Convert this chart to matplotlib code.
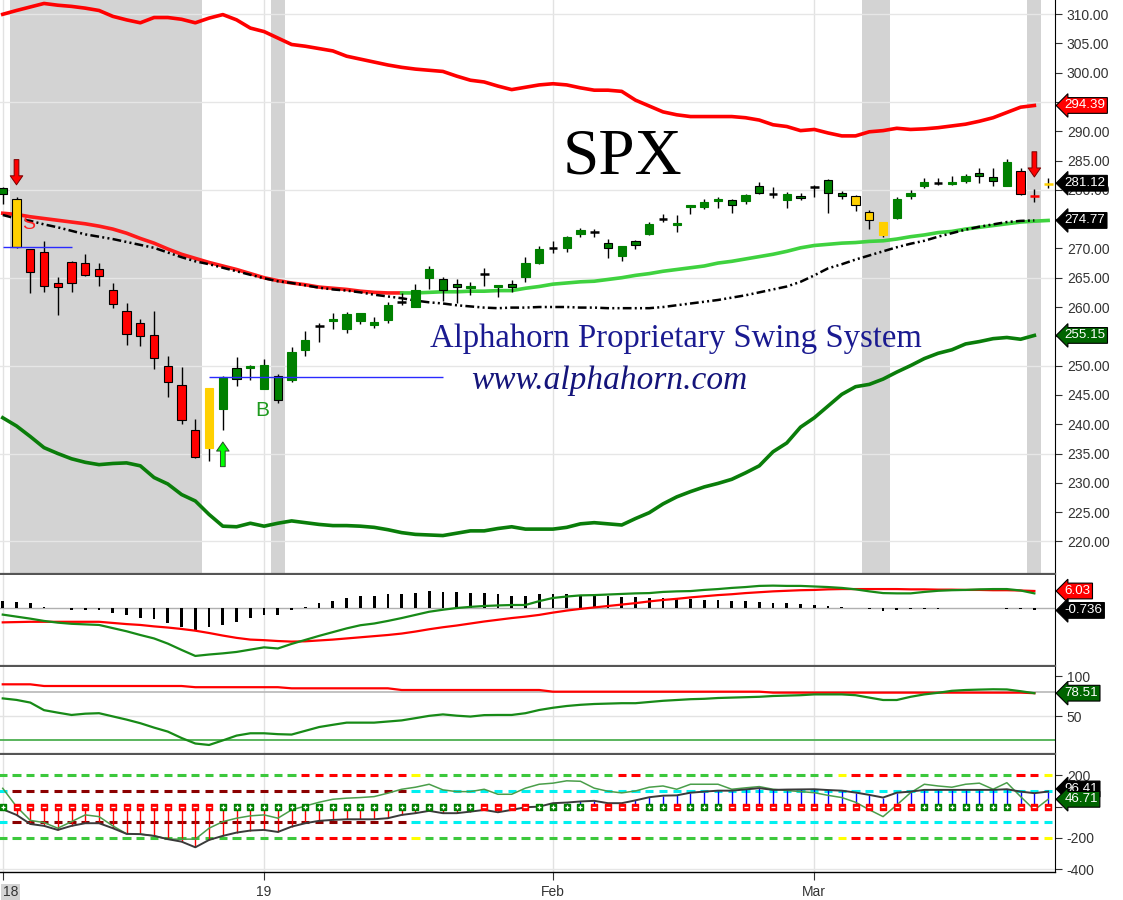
import matplotlib.pyplot as plt

plt.rcParams['font.family'] = ['Liberation Sans', 'DejaVu Sans']

# ---- price data (daily candles, Dec 3 2018 .. Mar 26 2019) ----
opens = [280.28, 278.37, 265.92, 269.46, 263.37, 267.66, 267.47, 266.52, 262.96, 259.40,
         257.20, 255.17, 249.86, 246.74, 239.04, 235.97, 242.57, 249.58, 249.56, 245.98,
         248.23, 247.59, 252.69, 256.82, 257.56, 256.26, 257.68, 256.86, 257.82, 260.83,
         259.98, 264.98, 264.82, 264.01, 263.21, 265.61, 263.39, 263.92, 265.10, 267.51,
         270.15, 270.11, 272.44, 272.79, 270.94, 268.75, 271.20, 272.42, 275.02, 273.94,
         277.00, 277.07, 278.06, 278.21, 278.05, 280.73, 279.29, 278.19, 279.02, 280.49,
         281.71, 279.50, 278.87, 276.21, 272.29, 275.12, 278.91, 280.73, 281.10, 280.99,
         281.55, 282.84, 282.26, 280.64, 283.22, 278.87, 280.99]
highs = [280.40, 278.85, 269.97, 271.22, 265.16, 267.87, 269.00, 267.43, 264.03, 260.65,
         257.95, 259.40, 251.62, 249.71, 240.84, 246.18, 248.29, 251.40, 250.19, 251.21,
         248.57, 253.11, 255.95, 257.31, 258.91, 259.16, 259.01, 258.30, 260.94, 262.36,
         263.92, 266.98, 265.06, 264.79, 264.20, 266.70, 263.83, 264.55, 268.52, 270.47,
         271.20, 272.04, 273.44, 273.34, 271.55, 270.33, 271.49, 274.52, 275.93, 275.64,
         277.41, 278.51, 278.74, 278.49, 279.36, 281.31, 280.42, 279.60, 279.40, 280.89,
         281.92, 279.77, 279.05, 276.47, 274.42, 278.79, 279.95, 282.04, 281.93, 282.39,
         282.66, 283.70, 283.77, 285.18, 283.80, 280.19, 282.03]
lows = [277.51, 270.10, 262.44, 262.63, 258.62, 262.48, 265.37, 263.66, 259.85, 253.53,
        253.28, 249.35, 244.65, 239.98, 234.27, 233.76, 238.96, 246.45, 247.47, 245.95,
        243.67, 247.17, 251.69, 254.00, 256.19, 255.50, 257.03, 256.41, 257.21, 260.26,
        259.96, 263.00, 261.06, 260.66, 262.08, 263.66, 261.79, 262.48, 264.25, 267.27,
        269.18, 269.36, 271.88, 271.92, 268.29, 267.83, 269.95, 272.34, 274.56, 272.88,
        275.91, 276.81, 276.93, 276.11, 277.64, 279.30, 278.67, 276.91, 278.24, 278.78,
        276.11, 278.44, 276.35, 273.31, 271.88, 274.96, 278.44, 280.29, 280.76, 280.84,
        281.23, 281.19, 280.71, 280.58, 279.18, 277.90, 280.37]
closes = [279.30, 270.25, 269.84, 263.57, 264.07, 264.13, 265.46, 265.37, 260.47, 255.36,
          255.08, 251.26, 247.17, 240.70, 234.34, 246.18, 248.07, 247.75, 249.92, 250.18,
          244.21, 252.39, 254.38, 256.77, 257.97, 258.88, 258.98, 257.40, 260.35, 260.98,
          262.96, 266.46, 262.86, 263.41, 263.55, 265.78, 263.76, 263.41, 267.58, 269.93,
          270.06, 271.96, 273.10, 272.74, 270.14, 270.47, 270.62, 274.10, 274.99, 274.38,
          277.37, 277.85, 278.41, 277.42, 279.14, 279.52, 279.32, 279.20, 278.68, 280.42,
          279.40, 279.02, 277.33, 274.78, 274.46, 278.44, 279.49, 281.34, 281.16, 281.31,
          282.33, 282.40, 281.55, 284.73, 279.25, 279.04, 281.12]
candle_state = ("gy" "rrrrrrrrrrrrr" "y"
                "gggggggggggggggggggggggggggggggggggggggggggggg"
                "yyy" "ggggggggg" "rr" "y")

upper_band = [309.95, 310.6, 311.2, 311.8, 311.5, 311.3, 311.0, 310.6, 309.6, 309.0,
              308.5, 309.4, 309.4, 309.1, 308.5, 309.3, 309.9, 309.0, 307.6, 307.0,
              305.9, 304.8, 304.5, 304.1, 303.7, 302.8, 302.3, 301.8, 301.3, 300.9,
              300.6, 300.4, 300.2, 299.4, 298.7, 298.4, 297.7, 297.1, 297.5, 297.9,
              298.1, 297.9, 297.4, 297.0, 297.0, 296.8, 295.3, 294.3, 293.3, 292.8,
              292.5, 292.5, 292.5, 292.5, 292.3, 291.9, 291.1, 290.8, 290.1, 290.3,
              289.7, 289.2, 289.2, 289.9, 290.1, 290.5, 290.3, 290.4, 290.6, 290.9,
              291.2, 291.7, 292.3, 293.2, 294.1, 294.39]
lower_band = [241.1, 239.7, 237.9, 236.0, 235.0, 234.1, 233.5, 233.1, 233.3, 233.4,
              232.9, 230.9, 229.8, 228.0, 226.9, 224.6, 222.6, 222.5, 223.1, 222.6,
              223.1, 223.5, 223.2, 222.9, 222.7, 222.7, 222.6, 222.4, 222.0, 221.5,
              221.2, 221.1, 221.0, 221.4, 221.8, 221.8, 222.2, 222.5, 222.1, 222.1,
              222.1, 222.4, 223.0, 223.2, 223.0, 222.8, 223.9, 224.9, 226.4, 227.6,
              228.5, 229.3, 229.9, 230.6, 231.7, 232.9, 235.3, 236.8, 239.5, 241.1,
              243.1, 245.1, 246.4, 246.8, 247.7, 248.9, 250.0, 251.2, 252.1, 252.7,
              253.7, 254.1, 254.6, 254.8, 254.5, 255.15]
trend_line = [276.0, 275.8, 275.4, 275.1, 274.8, 274.5, 274.2, 273.8, 273.3, 272.6,
              271.7, 270.9, 269.9, 269.0, 268.3, 267.6, 267.0, 266.4, 265.7, 265.0,
              264.5, 264.1, 263.8, 263.4, 263.2, 263.0, 262.7, 262.5, 262.4, 262.4,
              262.4, 262.5, 262.6, 262.6, 262.7, 262.7, 262.8, 262.8, 263.2, 263.5,
              263.9, 264.1, 264.3, 264.4, 264.7, 265.0, 265.4, 265.7, 266.1, 266.4,
              266.7, 267.0, 267.5, 267.8, 268.2, 268.6, 269.0, 269.5, 270.1, 270.5,
              270.7, 270.9, 271.0, 271.2, 271.3, 271.6, 272.0, 272.3, 272.7, 272.9,
              273.3, 273.6, 273.9, 274.2, 274.5, 274.65, 274.77]
trend_turn = 29
mid_band = [275.7, 275.1, 274.7, 274.1, 273.6, 273.0, 272.4, 272.0, 271.6, 271.1,
            270.6, 270.1, 269.3, 268.5, 267.8, 267.3, 266.7, 266.1, 265.5, 264.9,
            264.4, 264.1, 263.7, 263.3, 263.0, 262.8, 262.5, 262.1, 261.8, 261.5,
            261.1, 260.8, 260.6, 260.3, 260.1, 259.9, 259.8, 259.9, 259.9, 260.0,
            260.0, 260.0, 259.9, 259.9, 259.8, 259.8, 259.8, 259.8, 260.0, 260.3,
            260.6, 260.9, 261.2, 261.6, 262.0, 262.5, 263.0, 263.5, 264.3, 265.4,
            266.6, 267.3, 268.1, 268.8, 269.5, 270.2, 270.8, 271.3, 272.0, 272.6,
            273.2, 273.7, 274.1, 274.5, 274.7, 274.77]

shade_spans = [(1, 14), (20, 20), (63, 64), (75, 75)]
sell_signals = [1, 75]
buy_signals = [16]
sell_line = (1, 0, 5)      # level taken from close of candle 1
buy_line = (16, 15, 32)    # level taken from close of candle 16

# ---- oscillator panel ----
macd = [-2.2, -2.9, -3.6, -4.4, -5.0, -5.4, -5.6, -5.8, -6.9, -8.0,
        -9.3, -10.5, -12.3, -14.5, -16.6, -16.1, -15.7, -15.2, -14.4, -13.6,
        -14.0, -12.4, -11.0, -9.6, -8.3, -7.0, -5.9, -5.3, -4.4, -3.4,
        -2.3, -1.2, -0.5, 0.1, 0.5, 0.8, 1.0, 1.15, 1.15, 2.5,
        3.6, 4.1, 4.5, 4.6, 4.8, 5.0, 5.2, 5.3, 5.7, 5.9,
        6.0, 6.4, 6.7, 7.1, 7.4, 7.8, 7.9, 7.8, 7.8, 7.6,
        7.4, 7.1, 6.6, 5.9, 5.3, 5.2, 5.2, 5.7, 6.1, 6.3,
        6.4, 6.6, 6.7, 6.7, 6.2, 5.2]
signal = [-4.9, -4.8, -4.7, -4.7, -4.7, -4.7, -4.7, -4.7, -5.1, -5.5,
          -5.8, -6.3, -6.7, -7.2, -7.8, -8.6, -9.5, -10.3, -10.9, -11.1,
          -11.4, -11.6, -11.5, -11.2, -10.9, -10.5, -10.1, -9.7, -9.3, -8.8,
          -8.1, -7.3, -6.6, -6.0, -5.3, -4.6, -4.0, -3.4, -2.9, -2.3,
          -1.5, -0.8, -0.2, 0.3, 0.8, 1.3, 1.8, 2.4, 2.9, 3.3,
          3.8, 4.2, 4.6, 4.9, 5.3, 5.6, 5.9, 6.1, 6.3, 6.4,
          6.6, 6.7, 6.7, 6.7, 6.7, 6.7, 6.6, 6.6, 6.5, 6.5,
          6.4, 6.4, 6.3, 6.3, 6.2, 6.03]
hist = [2.6, 2.3, 1.7, 0.6, 0.1, -0.6, -0.6, -0.6, -1.5, -2.3,
        -3.3, -3.7, -5.0, -6.4, -7.5, -6.6, -5.8, -4.6, -3.3, -2.3,
        -2.3, -0.7, 0.35, 1.7, 2.7, 3.5, 4.4, 4.4, 4.9, 4.9,
        5.2, 6.2, 5.8, 5.7, 5.2, 5.2, 4.9, 4.4, 4.4, 4.9,
        4.9, 4.9, 4.7, 4.5, 4.3, 4.1, 3.9, 3.7, 3.5, 3.3,
        3.1, 2.9, 2.8, 2.6, 2.4, 2.2, 2.0, 1.7, 1.4, 1.1,
        0.7, 0.4, 0.15, -0.3, -0.8, -0.5, -0.35, -0.3, -0.25, 0.0,
        0.0, 0.0, 0.0, -0.15, -0.3, -0.736]

# ---- percent panel ----
pct_slow = [89.6, 89.6, 89.6, 87.5, 87.5, 87.5, 87.5, 87.5, 87.5, 87.5,
            87.5, 87.5, 87.5, 87.5, 86.0, 86.0, 86.0, 86.0, 86.0, 86.0,
            86.0, 84.6, 84.6, 84.6, 84.6, 84.6, 84.6, 84.6, 84.6, 82.5,
            82.5, 82.5, 82.5, 82.5, 82.5, 82.5, 82.5, 82.5, 82.5, 82.5,
            80.4, 80.4, 80.4, 80.4, 80.4, 80.4, 80.4, 80.4, 80.4, 80.4,
            80.4, 80.4, 80.4, 80.4, 80.4, 80.4, 79.2, 79.2, 79.2, 79.2,
            79.2, 79.2, 79.2, 79.2, 79.2, 79.2, 79.2, 79.2, 79.2, 79.2,
            79.2, 79.2, 79.2, 79.2, 79.2, 78.51]
pct_fast = [72.0, 70.1, 66.8, 57.3, 54.2, 51.3, 52.9, 53.5, 49.5, 45.5,
            41.0, 35.5, 30.5, 22.5, 15.6, 13.8, 19.5, 25.5, 28.4, 28.4,
            27.3, 26.8, 31.5, 36.2, 39.0, 41.7, 41.7, 41.7, 43.1, 44.5,
            47.3, 50.2, 52.0, 50.4, 49.3, 51.1, 51.3, 51.3, 53.5, 57.5,
            60.3, 62.5, 64.0, 65.0, 65.5, 66.0, 66.0, 67.5, 69.0, 70.0,
            71.0, 71.5, 72.5, 73.0, 73.5, 74.0, 75.0, 75.5, 76.0, 77.0,
            77.0, 77.0, 76.0, 73.0, 70.0, 70.0, 74.0, 77.0, 79.0, 81.5,
            82.5, 83.0, 83.4, 83.2, 81.0, 78.51]

# ---- cci panel ----
cci_slow = [-17, -53, -111, -123, -149, -123, -106, -106, -138, -174,
            -176, -187, -208, -224, -260, -213, -187, -166, -153, -149,
            -162, -128, -106, -91, -85, -81, -81, -81, -74, -53,
            -42, -27, -42, -42, -32, -21, -36, -21, -4, 0,
            22, 26, 33, 37, 22, 22, 40, 60, 70, 72,
            89, 96, 102, 102, 110, 118, 107, 109, 110, 111,
            106, 102, 90, 75, 58, 89, 96, 107, 107, 107,
            107, 107, 107, 111, 96, 86, 96.41]
cci_fast = [117, 0, -88, -102, -138, -96, -53, -64, -123, -174,
            -176, -187, -208, -208, -208, -138, -96, -74, -59, -53,
            -74, -21, 4, 28, 47, 54, 58, 64, 86, 111,
            124, 143, 107, 96, 96, 111, 79, 79, 118, 143,
            150, 165, 162, 118, 98, 88, 100, 124, 132, 111,
            143, 143, 143, 111, 120, 128, 111, 103, 96, 89,
            72, 58, 28, -20, -64, 11, 89, 143, 132, 124,
            143, 150, 111, 153, 64, -21, 46.71]
cci_signs = ("+" "---------------" "+++++++++++++++++++" "----" "++++" "----"
             "++" "-" "+++" "--------------" "+++++++" "---")
outer_state = ("gggggggggggggggggggggg" "rrrrrrrr" "y" "gggggggggggggg" "rr"
               "gggggggggggggg" "y" "rrrr" "gggggggg" "rr" "y")
inner_state = ("c" "ddddddddddddddddddddddddddddd"
               "ccccccccccccccccccccccccccccccccccccccccccccccc")

month_pos = [0, 19, 40, 59]
month_lab = ['18', '19', 'Feb', 'Mar']
price_ticks = [220, 225, 230, 235, 240, 245, 250, 255, 260, 265, 270, 275, 280,
               285, 290, 295, 300, 305, 310]
hidden_ticks = [255, 275, 295]     # labels covered by the value tags
price_grid = [220, 235, 250, 265, 280, 295, 310]

fill = {'g': '#008000', 'r': '#ff0000', 'y': '#ffd000'}
dash_col = {'g': '#3cc83c', 'r': '#ff0000', 'y': '#ffff00', 'c': '#00f0f0', 'd': '#8b0000'}

W, H = 1123, 900
fig = plt.figure(figsize=(W / 100, H / 100), dpi=100)


def panel(top, bottom):
    a = fig.add_axes([0, 1 - bottom / H, 1055 / W, (bottom - top) / H])
    a.set_xlim(-0.2, 76.5)
    a.yaxis.tick_right()
    a.spines['left'].set_visible(False)
    a.spines['top'].set_visible(False)
    a.spines['bottom'].set_color('#555555')
    a.spines['bottom'].set_linewidth(1.6)
    a.spines['right'].set_color('black')
    a.set_xticks([])
    a.tick_params(axis='y', direction='out', length=5, labelsize=10, colors='#333333')
    for p in month_pos:
        a.axvline(p, color='#e2e2e2', lw=1, zorder=0)
    return a


def tag(a, y, text, fc):
    a.text(1.009, y, text, transform=a.get_yaxis_transform(), fontsize=9.6,
           color='white', ha='left', va='center', clip_on=False, zorder=20,
           bbox=dict(boxstyle='larrow,pad=0.14', fc=fc, ec='black', lw=0.8))


ax1 = panel(0, 574)
ax2 = panel(575, 666)
ax3 = panel(667, 754)
ax4 = panel(755, 872)

# ---- main price panel ----
ax1.set_ylim(214.44, 312.39)
for a0, a1 in shade_spans:
    ax1.axvspan(a0 - 0.5, a1 + 0.5, color='#d3d3d3', lw=0, zorder=0)
for g in price_grid:
    ax1.axhline(g, color='#e6e6e6', lw=1, zorder=0.5)

x_all = list(range(len(closes)))
xb = x_all[:len(upper_band)]
ax1.plot(xb, upper_band, color='#ff0000', lw=2.6, zorder=2)
ax1.plot(xb, lower_band, color='#0a7d0a', lw=2.6, zorder=2)
ax1.plot(xb, mid_band, color='black', lw=1.8, zorder=2.2,
         dashes=[3.5, 1.3, 0.8, 1.3, 0.8, 1.3])
ax1.plot(x_all[:trend_turn + 1], trend_line[:trend_turn + 1], color='#ff1a1a', lw=2.6, zorder=2.1)
ax1.plot(x_all[trend_turn:], trend_line[trend_turn:], color='#3fd23f', lw=2.6, zorder=2.1)

for i, (o, h, l, c, s) in enumerate(zip(opens, highs, lows, closes, candle_state)):
    ax1.vlines(i, l, h, color='black', lw=1, zorder=3)
    if abs(c - o) < 0.2:
        ax1.hlines((o + c) / 2, i - 0.32, i + 0.32, color='black' if s == 'g' else fill[s],
                   lw=1.8, zorder=4)
    else:
        edge = 'black' if (c < o or s == 'r') else fill[s]
        ax1.bar(i, abs(c - o), bottom=min(o, c), width=0.6, color=fill[s],
                edgecolor=edge, lw=0.8, zorder=4)

for i in sell_signals:
    ax1.annotate('', xy=(i, highs[i] + 2.0), xytext=(i, highs[i] + 6.3), zorder=6,
                 arrowprops=dict(width=3.4, headwidth=9, headlength=6.5, shrink=0,
                                 fc='#ff0000', ec='#7a0000', lw=0.7))
for i in buy_signals:
    ax1.annotate('', xy=(i, lows[i] - 2.0), xytext=(i, lows[i] - 6.2), zorder=6,
                 arrowprops=dict(width=3.4, headwidth=9, headlength=6.5, shrink=0,
                                 fc='#00ff00', ec='#2a4a2a', lw=0.7))
for src, x0, x1 in (sell_line, buy_line):
    ax1.hlines(closes[src], x0, x1, color='#2a2aff', lw=1, zorder=5)

ax1.text(1.85, 274.1, 'S', color='#ff2020', fontsize=14, ha='center', va='center', zorder=5)
ax1.text(18.9, 242.3, 'B', color='#1f9a1f', fontsize=15, ha='center', va='center', zorder=5)

ax1.text(0.59, 0.725, 'SPX', transform=ax1.transAxes, fontsize=47,
         family='Liberation Serif', ha='center', va='center')
ax1.text(0.641, 0.41, 'Alphahorn Proprietary Swing System', transform=ax1.transAxes,
         fontsize=23.6, family='Liberation Serif', color='#1a1a90', ha='center', va='center')
ax1.text(0.578, 0.336, 'www.alphahorn.com', transform=ax1.transAxes, fontsize=24,
         family='Liberation Serif', style='italic', color='#14147a', ha='center', va='center')

ax1.set_yticks(price_ticks)
ax1.set_yticklabels(['' if t in hidden_ticks else '%.2f' % t for t in price_ticks])
tag(ax1, upper_band[-1], '%.2f' % upper_band[-1], '#ff0000')
tag(ax1, closes[-1], '%.2f' % closes[-1], 'black')
tag(ax1, mid_band[-1], '%.2f' % mid_band[-1], 'black')
tag(ax1, lower_band[-1], '%.2f' % lower_band[-1], '#006400')

# ---- oscillator ----
ax2.set_ylim(-20.1, 11.6)
ax2.set_yticks([])
ax2.axhline(0, color='#b0b0b0', lw=1, zorder=1)
xo = x_all[:len(hist)]
ax2.bar(xo, hist, width=0.2, color='black', zorder=2)
ax2.plot(xo, signal, color='#ff0000', lw=1.6, zorder=3)
ax2.plot(xo, macd, color='#178a17', lw=1.6, zorder=3)
tag(ax2, signal[-1], '%.2f' % signal[-1], '#ff0000')
tag(ax2, hist[-1], '%.3f' % hist[-1], 'black')

# ---- percent panel ----
ax3.set_ylim(2.5, 111.25)
ax3.axhline(80, color='#b8b8b8', lw=1.2, zorder=1)
ax3.axhline(50, color='#e3e3e3', lw=1, zorder=1)
ax3.axhline(20, color='#4caf50', lw=1.3, zorder=1)
ax3.plot(xo, pct_slow, color='#ff0000', lw=1.6, zorder=3)
ax3.plot(xo, pct_fast, color='#178a17', lw=1.6, zorder=3)
ax3.set_yticks([50, 100])
ax3.set_yticklabels(['50', '100'])
tag(ax3, pct_fast[-1], '%.2f' % pct_fast[-1], '#006400')

# ---- cci panel ----
ax4.set_ylim(-418, 330)
ax4.axhline(-400, color='#e6e6e6', lw=1, zorder=0.5)
for i in x_all:
    ax4.hlines([200, -200], i - 0.3, i + 0.3, color=dash_col[outer_state[i]], lw=2.2, zorder=1)
    ax4.hlines([100, -100], i - 0.3, i + 0.3, color=dash_col[inner_state[i]], lw=2.2, zorder=1)
    ax4.vlines(i, 0, cci_slow[i], color='#ff0000' if cci_slow[i] < 0 else '#0000ff',
               lw=1, zorder=2)
ax4.plot(x_all, cci_fast, color='#4a9e4a', lw=1.1, zorder=3)
ax4.plot(x_all, cci_slow, color='#3a3a3a', lw=1.4, zorder=3)
for i, s in enumerate(cci_signs):
    col = '#008000' if s == '+' else '#ff0000'
    ax4.scatter(i, 0, marker='s', s=17, color=col, edgecolors=col, zorder=5)
    ax4.scatter(i, 0, marker='+' if s == '+' else '_', s=7, color='white',
                linewidths=0.9, zorder=6)
ax4.set_yticks([200, 0, -200, -400])
ax4.set_yticklabels(['200', '', '-200', '-400'])
tag(ax4, 113, '%.2f' % cci_slow[-1], 'black')
tag(ax4, cci_fast[-1], '%.2f' % cci_fast[-1], '#006400')

ax4.spines['bottom'].set_color('black')
ax4.spines['bottom'].set_linewidth(1)
ax4.set_xticks(month_pos)
ax4.set_xticklabels(month_lab)
ax4.tick_params(axis='x', direction='out', length=6, labelsize=10, colors='#333333')
first = ax4.get_xticklabels()[0]
first.set_ha('left')
first.set_bbox(dict(fc='#d3d3d3', ec='none', pad=1))

fig.savefig('out.png', dpi=100)
